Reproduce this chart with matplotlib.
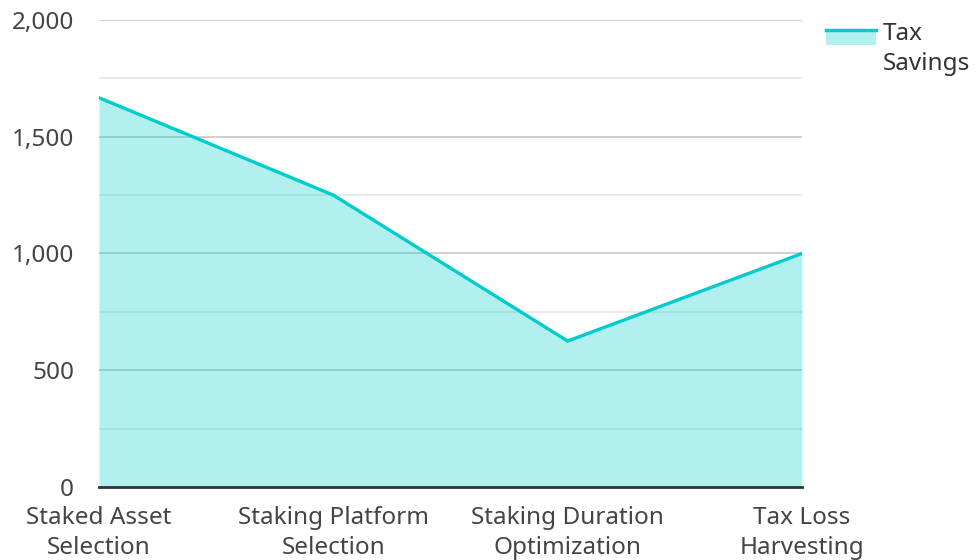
import matplotlib.pyplot as plt
from matplotlib.legend_handler import HandlerBase
from matplotlib.patches import Rectangle, Patch
from matplotlib.lines import Line2D
from matplotlib.ticker import MultipleLocator, FuncFormatter

# data
categories = ["Staked Asset\nSelection", "Staking Platform\nSelection",
              "Staking Duration\nOptimization", "Tax Loss\nHarvesting"]
tax_savings = [1667, 1250, 625, 1000]
series_label = "Tax\nSavings"

line_color = "#00CCCC"
fill_color = "#00CCCC"
fill_alpha = 0.3

plt.rcParams['font.family'] = ['Noto Sans', 'DejaVu Sans']


class AreaHandler(HandlerBase):
    # legend key: filled box with the line on top edge, lifted to the first text line
    def create_artists(self, legend, orig_handle, xdescent, ydescent,
                       width, height, fontsize, trans):
        y0 = -ydescent + 8.5
        rect = Rectangle((-xdescent, y0), width, height,
                         facecolor=fill_color, alpha=fill_alpha,
                         edgecolor='none', transform=trans)
        line = Line2D([-xdescent, -xdescent + width],
                      [y0 + height, y0 + height],
                      color=line_color, lw=2.5, transform=trans)
        return [rect, line]


fig = plt.figure(figsize=(9.77, 5.6), dpi=100)
ax = fig.add_axes([0.1013, 0.1304, 0.7196, 0.8339])

x = list(range(len(categories)))
ax.fill_between(x, tax_savings, 0, color=fill_color, alpha=fill_alpha,
                linewidth=0, zorder=3)
ax.plot(x, tax_savings, color=line_color, lw=2.4, zorder=4)

ax.set_xlim(0, len(categories) - 1)
ax.set_ylim(0, 2000)
ax.yaxis.set_major_locator(MultipleLocator(500))
ax.yaxis.set_minor_locator(MultipleLocator(250))
ax.yaxis.set_major_formatter(FuncFormatter(lambda v, p: f"{int(v):,}"))
ax.grid(True, which='major', axis='y', color='#c8c8c8', lw=1.2, zorder=1)
ax.grid(True, which='minor', axis='y', color='#e6e6e6', lw=1.2, zorder=1)

ax.set_xticks(x)
ax.set_xticklabels(categories, linespacing=1.3)
ax.tick_params(axis='both', which='both', length=0, labelsize=17.5,
               labelcolor='#444444')
ax.tick_params(axis='y', pad=18)
ax.tick_params(axis='x', pad=14)

for s in ['left', 'right', 'top']:
    ax.spines[s].set_visible(False)
ax.spines['bottom'].set_color('#333333')
ax.spines['bottom'].set_linewidth(2)
ax.spines['bottom'].set_zorder(5)

leg = ax.legend([Patch()], [series_label], handler_map={Patch: AreaHandler()},
                loc='upper left', bbox_to_anchor=(0.823, 1.0),
                bbox_transform=fig.transFigure, frameon=False, fontsize=17.5,
                handlelength=2.05, handleheight=0.6, handletextpad=0.3,
                labelcolor='#333333')
for t in leg.get_texts():
    t.set_linespacing(1.35)

plt.savefig("out.png", dpi=100)
